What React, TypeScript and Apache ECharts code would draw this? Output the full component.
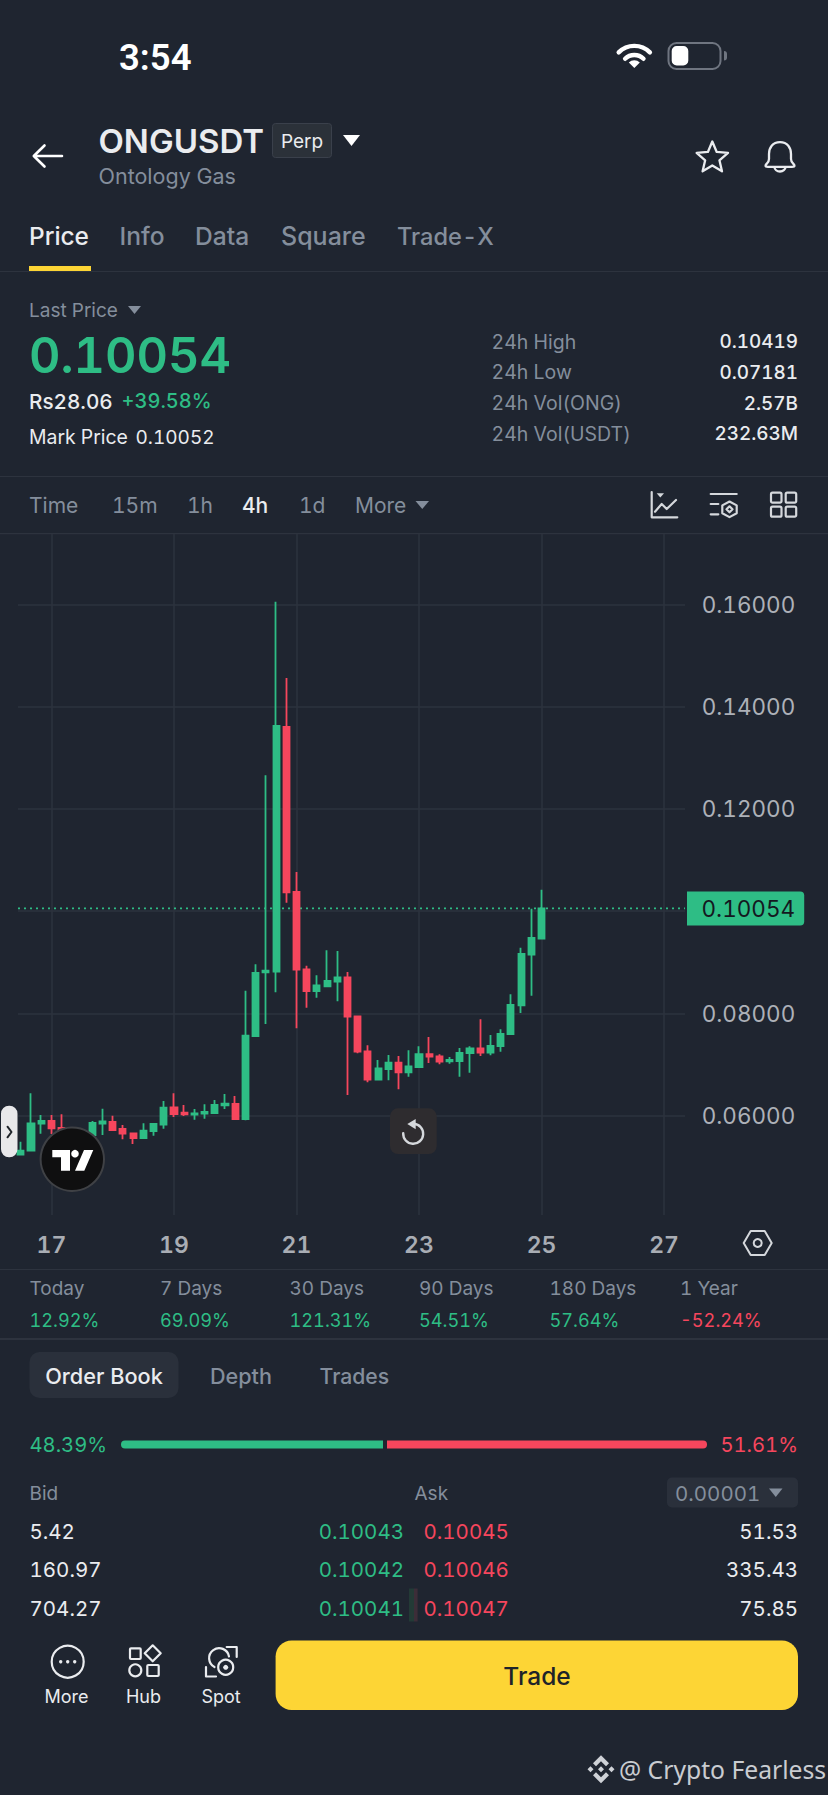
import React, { useEffect, useRef } from "react";
import * as echarts from "echarts";

// ---- chart data ----
const tickLabels = ["17", "19", "21", "23", "25", "27"];
const opens = [0.05237,0.05316,0.05844,0.05896,0.05759,0.05681,0.055,0.05623,0.05844,0.05877,0.0574,0.05656,0.05564,0.05701,0.05824,0.06164,0.06059,0.0602,0.06039,0.06053,0.06203,0.06229,0.05935,0.07558,0.08804,0.08816,0.13601,0.10374,0.08863,0.08438,0.0853,0.0862,0.08706,0.07944,0.07259,0.06704,0.06913,0.07036,0.06849,0.06952,0.07206,0.07161,0.07064,0.0707,0.07226,0.07318,0.07232,0.07363,0.07598,0.08159,0.09148,0.09461];
const closes = [0.05316,0.05851,0.05896,0.05754,0.05681,0.0556,0.05623,0.05857,0.0589,0.0572,0.05648,0.05564,0.05707,0.05838,0.06156,0.06033,0.06027,0.06047,0.06072,0.06209,0.06235,0.05935,0.07564,0.0879,0.08835,0.1362,0.10368,0.08855,0.08438,0.0855,0.08634,0.08706,0.07936,0.07251,0.06704,0.06927,0.07036,0.06849,0.06966,0.07206,0.07154,0.07056,0.07089,0.07226,0.07318,0.07232,0.07363,0.07598,0.08165,0.09162,0.09475,0.10054];
const lows = [0.05237,0.05316,0.05648,0.05642,0.05603,0.0552,0.0547,0.05623,0.05623,0.05707,0.05539,0.05447,0.05564,0.05609,0.05746,0.05975,0.05994,0.05922,0.05941,0.06053,0.06131,0.05922,0.0591,0.07558,0.07793,0.08413,0.10165,0.07709,0.08112,0.08307,0.08511,0.08237,0.06405,0.0722,0.06653,0.06704,0.06692,0.06516,0.06763,0.06952,0.07031,0.07005,0.07017,0.06763,0.06841,0.07167,0.07181,0.07251,0.07598,0.08008,0.08346,0.09461];
const highs = [0.05492,0.06438,0.06014,0.06014,0.06027,0.057,0.057,0.05896,0.06137,0.06,0.05818,0.05656,0.05851,0.05851,0.06287,0.06438,0.06209,0.06131,0.06223,0.06307,0.06424,0.06385,0.08444,0.0896,0.12656,0.16051,0.14559,0.10765,0.08933,0.08745,0.09234,0.09221,0.0881,0.07955,0.07377,0.07089,0.07187,0.07167,0.07279,0.07357,0.07539,0.07201,0.07148,0.07324,0.07357,0.07885,0.07578,0.07689,0.08374,0.09285,0.10048,0.10419];
const lastPrice = 0.10054;
const priceLabel = "0.10054";

// ---- interface texts ----
const tabs = ["Price", "Info", "Data", "Square", "Trade-X"];
const intervals = ["Time", "15m", "1h", "4h", "1d", "More"];
const statNames = ["24h High", "24h Low", "24h Vol(ONG)", "24h Vol(USDT)"];
const statValues = ["0.10419", "0.07181", "2.57B", "232.63M"];
const periods = ["Today", "7 Days", "30 Days", "90 Days", "180 Days", "1 Year"];
const periodChanges = ["12.92%", "69.09%", "121.31%", "54.51%", "57.64%", "-52.24%"];
const bookBidSizes = ["5.42", "160.97", "704.27"];
const bookBids = ["0.10043", "0.10042", "0.10041"];
const bookAsks = ["0.10045", "0.10046", "0.10047"];
const bookAskSizes = ["51.53", "335.43", "75.85"];

// ---- layout ----
const tabX = [29, 119.5, 195, 281, 397];
const tabSize = [24.4, 24.6, 24.6, 25, 23.6];
const intervalX = [29, 112, 187, 242, 299, 355];
const periodX = [29.5, 160, 289.5, 419, 549.5, 680];
const rowY = [1531.5, 1569.5, 1608];
const statY = [341.5, 372, 403, 433.5];

const BG = "#1f2530";
const UP = "#2ebd85";
const DOWN = "#f6465d";
const GREY = "#848e9c";
const WHITE = "#eaecef";
const LINE = "#2d333e";
const FONT = "Inter";

const PX_PER_UNIT = 5114;
const Y16 = 604.3;
const yToVal = (y: number) => 0.16 + (Y16 - y) / PX_PER_UNIT;

const ICONS: Record<string, string> = {
  iWifiArcs: "M618.7 52.4A22 22 0 0 1 649.9 52.4M625.1 58.8A13 13 0 0 1 643.5 58.8",
  iWifiDot: "M634.3 68L628.8 62.5A7.8 7.8 0 0 1 639.8 62.5Z",
  iBack: "M62 156L34.5 156M44.5 145.5L33.8 156L44.5 166.5",
  iBell: "M780 142.2C772.5 142.2 769 148 769 154L769 159C769 163 766 163.5 765.6 165.2C765.3 166.5 766 166.8 768 166.8L792 166.8C794 166.8 794.7 166.5 794.4 165.2C794 163.5 791 163 791 159L791 154C791 148 787.5 142.2 780 142.2ZM774.5 167A5.5 4.5 0 0 0 785.5 167",
  iChart: "M651.7 492L651.7 517.3L677.3 517.3M655 511.7L661.7 504L666.7 509L676 500",
  iIndic: "M710.7 494L736.7 494M710.7 504L718.3 504M710.7 514.3L718.3 514.3M729.5 501.5L736.7 505.4L736.7 513.2L729.5 517.1L722.3 513.2L722.3 505.4ZM729.5 506.3L732.5 509.3L729.5 512.3L726.5 509.3Z",
  iHex: "M743.7 1243L750.7 1231L764.7 1231L771.7 1243L764.7 1255L750.7 1255Z",
  iSpot: "M226.7 1647L236.7 1647L236.7 1657M206 1667L206 1676.5L216 1676.5M214.5 1667A10 10 0 1 1 229 1656.5",
  iHub: "M152.7 1645.3L160.7 1653.3L152.7 1661.3L144.7 1653.3Z",
  iReset: "M414 1123.8A10 10 0 1 1 403.2 1133.3",
  iTV: "M52.3 1150L70 1150L70 1170.7L61 1170.7L61 1157.3L52.3 1157.3ZM84 1150L93.3 1150L84.3 1170.7L75 1170.7Z",
  iBinance: "M601 1755.3L609 1763.3L606 1766.3L601 1761.3L596 1766.3L593 1763.3ZM601 1783.3L609 1775.3L606 1772.3L601 1777.3L596 1772.3L593 1775.3ZM601 1766.3L604 1769.3L601 1772.3L598 1769.3ZM590.5 1766.3L593.5 1769.3L590.5 1772.3L587.5 1769.3ZM611.5 1766.3L614.5 1769.3L611.5 1772.3L608.5 1769.3Z",
  iChevron: "M7.5 1126.7L11.5 1132L7.5 1137.3",
};
let iconsDone = false;
function registerIcons() {
  if (iconsDone) return;
  iconsDone = true;
  Object.keys(ICONS).forEach((k) => {
    echarts.graphic.registerShape(k, echarts.graphic.extendPath(ICONS[k], {}));
  });
}

const Z = 100;
function txt(text: string, x: number, y: number, size: number, fill: string, o: any = {}) {
  const align = o.align || "left";
  return {
    type: "text", x, y, z: Z,
    style: {
      text, fill,
      font: `${o.weight || 400} ${size}px ${o.family || FONT}`,
      align, textAlign: align, verticalAlign: "middle", textVerticalAlign: "middle",
    },
  };
}
const stroke = (name: string, color = "#d5d8dc", lineWidth = 2.2) => ({
  type: name, x: 0, y: 0, z: Z,
  style: { fill: "none", stroke: color, lineWidth, lineCap: "round", lineJoin: "round" },
});
const solid = (name: string, color: string) => ({ type: name, x: 0, y: 0, z: Z, style: { fill: color } });
const rect = (x: number, y: number, w: number, h: number, fill: string, r: any = 0) => ({
  type: "rect", z: Z - 1, shape: { x, y, width: w, height: h, r }, style: { fill },
});
const boxLine = (x: number, y: number, w: number, h: number, color: string, lw: number, r: number) => ({
  type: "rect", z: Z, shape: { x, y, width: w, height: h, r }, style: { fill: "none", stroke: color, lineWidth: lw },
});
const tri = (x: number, y: number, w: number, h: number, fill: string) => ({
  type: "polygon", z: Z, shape: { points: [[x, y], [x + w, y], [x + w / 2, y + h]] }, style: { fill },
});
const circ = (cx: number, cy: number, r: number, s: any) => ({ type: "circle", z: Z, shape: { cx, cy, r }, style: s });
const hr = (y: number, lw = 1.2) => ({
  type: "line", z: Z - 2, shape: { x1: 0, y1: y, x2: 828, y2: y }, style: { stroke: LINE, lineWidth: lw },
});

function starPoints(cx: number, cy: number, R: number, r: number) {
  const pts: number[][] = [];
  for (let i = 0; i < 10; i++) {
    const a = -Math.PI / 2 + (i * Math.PI) / 5;
    const rad = i % 2 ? r : R;
    pts.push([cx + rad * Math.cos(a), cy + rad * Math.sin(a)]);
  }
  return pts;
}

function buildGraphics() {
  const g: any[] = [];
  // status bar
  g.push(txt("3:54", 119, 57, 36.5, "#ffffff", { weight: 600, family: "Roboto" }));
  g.push(stroke("iWifiArcs", "#ffffff", 4.4), solid("iWifiDot", "#ffffff"));
  g.push(boxLine(668.5, 43, 52, 26, "#6f7580", 2, 8), rect(671.7, 46, 16.6, 19.5, "#ffffff", 5));
  g.push(rect(724, 51, 3, 9.5, "#6f7580", [0, 3, 3, 0]));

  // header
  g.push(stroke("iBack", "#ffffff", 2.6));
  g.push(txt("ONGUSDT", 98.5, 140.5, 33, WHITE, { weight: 600 }));
  g.push(rect(272.5, 123.5, 59, 34, "#2b3139", 3), boxLine(272.5, 123.5, 59, 34, "#3a404b", 1, 3));
  g.push(txt("Perp", 302, 141, 19, WHITE, { align: "center" }));
  g.push(tri(343, 135, 17, 11, "#ffffff"));
  g.push(txt("Ontology Gas", 98.5, 176, 21.5, GREY));
  g.push({ type: "polygon", z: Z, shape: { points: starPoints(712.3, 158, 16.5, 7.5) },
    style: { fill: "none", stroke: WHITE, lineWidth: 2.3, lineJoin: "round" } });
  g.push(stroke("iBell", WHITE, 2.3));

  // tabs
  tabs.forEach((t, i) => g.push(txt(t, tabX[i], 236, tabSize[i], i === 0 ? WHITE : GREY, { weight: 500 })));
  g.push(rect(29, 266, 62, 5, "#fcd535"), hr(271.5));

  // price block
  g.push(txt("Last Price", 29, 310.5, 19, GREY), tri(128, 306, 13, 8, GREY));
  g.push(txt(priceLabel, 29, 355, 48.7, UP, { weight: 600 }));
  g.push(txt("Rs28.06", 29, 401, 20.7, WHITE, { weight: 500 }));
  g.push(txt("+39.58%", 121.5, 401, 20, UP, { weight: 500 }));
  g.push(txt("Mark Price", 29, 437, 19.4, WHITE), txt("0.10052", 135.5, 437, 19, WHITE));
  statNames.forEach((s, i) => {
    g.push(txt(s, 491.5, statY[i], 19.5, GREY));
    g.push(txt(statValues[i], 798, statY[i], 18.9, WHITE, { align: "right", weight: 500 }));
  });
  g.push(hr(476.5));

  // interval row
  intervals.forEach((t, i) => g.push(txt(t, intervalX[i], 505, 21, i === 3 ? WHITE : GREY, { weight: i === 3 ? 500 : 400 })));
  g.push(tri(415.5, 501, 13.5, 8, GREY));
  g.push(stroke("iChart"), { type: "polygon", z: Z, shape: { points: [[656.7, 493.3], [664, 493.3], [660.3, 497.6]] }, style: { fill: "#d5d8dc" } });
  g.push(stroke("iIndic"));
  [[771, 492.7], [785.7, 492.7], [771, 506.7], [785.7, 506.7]].forEach(([x, y]) => g.push(boxLine(x, y, 10.5, 10, "#d5d8dc", 2.2, 1.5)));
  g.push(hr(533.7));

  // chart overlays
  g.push(rect(1, 1105.7, 16.5, 51.6, "#e8e8ea", 8), stroke("iChevron", "#1e2329", 2));
  g.push(circ(72.3, 1159.3, 31.7, { fill: "#0f0f10", stroke: "#3f4145", lineWidth: 2 }));
  g.push(solid("iTV", "#ffffff"), circ(75, 1153.7, 3.8, { fill: "#ffffff" }));
  g.push(rect(390, 1108.3, 46.7, 45.7, "#2e2c2f", 8), stroke("iReset", "#d5d8dc", 2.4));
  g.push({ type: "polygon", z: Z, shape: { points: [[407.3, 1124], [415.7, 1119], [415.7, 1129.3]] }, style: { fill: "#d5d8dc" } });
  g.push(stroke("iHex", "#d5d8dc", 2), circ(757.7, 1243, 4, { fill: "none", stroke: "#d5d8dc", lineWidth: 2 }));

  // period changes
  g.push(hr(1269.5));
  periods.forEach((t, i) => {
    g.push(txt(t, periodX[i], 1288.5, 19, GREY));
    g.push(txt(periodChanges[i], periodX[i], 1319.5, 18.2, periodChanges[i].startsWith("-") ? DOWN : UP));
  });
  g.push(hr(1339, 2));

  // order book
  g.push(rect(29.5, 1352, 149, 46, "#2a303b", 10));
  g.push(txt("Order Book", 104, 1375.5, 21.7, WHITE, { align: "center", weight: 500 }));
  g.push(txt("Depth", 210, 1375.5, 21.6, GREY, { weight: 500 }), txt("Trades", 319.5, 1375.5, 21.2, GREY, { weight: 500 }));
  g.push(txt("48.39%", 29.5, 1444.5, 20.2, UP), txt("51.61%", 798, 1444.5, 20.2, DOWN, { align: "right" }));
  g.push(rect(121, 1440.4, 262, 8, UP, [4, 0, 0, 4]), rect(387, 1440.4, 320, 8, DOWN, [0, 4, 4, 0]));
  g.push(txt("Bid", 29.5, 1493, 19, GREY), txt("Ask", 414.5, 1493, 19, GREY));
  g.push(rect(667, 1477.5, 131, 30, "#2a303b", 5), txt("0.00001", 675, 1493, 20.5, GREY), tri(769, 1488.5, 13.5, 8.5, GREY));
  g.push(rect(409, 1588.5, 5, 33, "#233a36"), rect(414, 1588.5, 3.6, 33, "#3c2d38"));
  bookBidSizes.forEach((t, i) => {
    g.push(txt(t, 29.5, rowY[i], 20.5, WHITE));
    g.push(txt(bookBids[i], 404, rowY[i], 20.5, UP, { align: "right" }));
    g.push(txt(bookAsks[i], 423.5, rowY[i], 20.5, DOWN));
    g.push(txt(bookAskSizes[i], 798, rowY[i], 20.5, WHITE, { align: "right" }));
  });

  // bottom bar
  g.push(circ(67.7, 1661.7, 16, { fill: "none", stroke: WHITE, lineWidth: 2.2 }));
  [60.7, 67.7, 74.7].forEach((x) => g.push(circ(x, 1661.7, 1.7, { fill: WHITE })));
  g.push(boxLine(130, 1648.3, 10.7, 10.7, WHITE, 2.2, 1), stroke("iHub", WHITE, 2.2));
  g.push(circ(135.3, 1670.3, 6, { fill: "none", stroke: WHITE, lineWidth: 2.2 }), boxLine(147.3, 1665, 11.4, 11, WHITE, 2.2, 1));
  g.push(stroke("iSpot", WHITE, 2.2), circ(225.7, 1667.3, 7.5, { fill: "none", stroke: WHITE, lineWidth: 2.2 }), circ(225.7, 1667.3, 2.5, { fill: WHITE }));
  g.push(txt("More", 66.5, 1696.5, 18, WHITE, { align: "center" }));
  g.push(txt("Hub", 143.5, 1696.5, 18, WHITE, { align: "center" }));
  g.push(txt("Spot", 221, 1696.5, 18, WHITE, { align: "center" }));
  g.push(rect(275.6, 1640.6, 522.4, 69.4, "#fdd535", 16));
  g.push(txt("Trade", 537, 1675.5, 24.5, "#1e2329", { align: "center", weight: 500 }));

  // watermark
  g.push(solid("iBinance", "#cfd2d7"));
  g.push(txt("@ Crypto Fearless", 619, 1769, 24.7, "#c9ccd1", { family: "Noto Sans" }));
  return g;
}

export default function App() {
  const ref = useRef<HTMLDivElement>(null);
  useEffect(() => {
    document.body.style.margin = "0";
    document.body.style.background = BG;
    registerIcons();
    const chart = echarts.init(ref.current!, null, { renderer: "svg" });
    const categories = Array.from({ length: 65 }, (_, i) =>
      (i - 3) % 12 === 0 && i >= 3 ? tickLabels[(i - 3) / 12] : `c${i}`
    );
    const isTick = (i: number) => i >= 3 && (i - 3) % 12 === 0;
    const step = 10.21;
    chart.setOption({
      animation: false,
      backgroundColor: BG,
      grid: [
        { left: 20.8 - step / 2, top: 534, width: step * 65, height: 681 },
        { left: 18, top: Y16 - 0.02 * PX_PER_UNIT, width: 667, height: 0.14 * PX_PER_UNIT },
      ],
      xAxis: [
        {
          type: "category", gridIndex: 0, data: categories, boundaryGap: true,
          axisLine: { show: false }, axisTick: { show: false },
          axisLabel: {
            margin: 18, color: "#a9adb4", fontSize: 23, fontWeight: 600, fontFamily: FONT,
            interval: (i: number) => isTick(i),
            formatter: (v: string) => v,
          },
          splitLine: { show: true, alignWithLabel: true, interval: (i: number) => isTick(i), lineStyle: { color: LINE, width: 1.5 } },
        },
        { type: "value", gridIndex: 1, show: false, min: 0, max: 1 },
      ],
      yAxis: [
        { type: "value", gridIndex: 0, show: false, min: yToVal(1215), max: yToVal(534), scale: true, splitLine: { show: false } },
        {
          type: "value", gridIndex: 1, position: "right", min: 0.04, max: 0.18, interval: 0.02,
          axisLine: { show: false }, axisTick: { show: false },
          axisLabel: {
            margin: 16.7, color: "#adb1b8", fontSize: 22.5, fontFamily: FONT,
            showMinLabel: false, showMaxLabel: false,
            formatter: (v: number) => v.toFixed(5),
          },
          splitLine: { show: true, showMinLine: false, showMaxLine: false, lineStyle: { color: LINE, width: 1.5 } },
        },
      ],
      series: [
        {
          type: "line", xAxisIndex: 1, yAxisIndex: 1, z: 1, showSymbol: false, silent: true,
          data: [[0, lastPrice], [1, lastPrice]],
          lineStyle: { color: UP, width: 1.6, type: [2, 4] },
          endLabel: {
            show: true, formatter: priceLabel, distance: 2,
            color: "#14181f", fontSize: 22.5, fontFamily: FONT,
            backgroundColor: UP, borderRadius: [0, 4, 4, 0], padding: [5.5, 18.8, 5.5, 14.5],
          },
        },
        {
          type: "candlestick", xAxisIndex: 0, yAxisIndex: 0, z: 2, barWidth: 6.6,
          data: opens.map((o, i) => [o, closes[i], lows[i], highs[i]]),
          itemStyle: { color: UP, color0: DOWN, borderColor: UP, borderColor0: DOWN, borderWidth: 1.8 },
        },
      ],
      graphic: { elements: buildGraphics() },
    });
    return () => chart.dispose();
  }, []);
  return (
    <>
      <style>{'svg text{font-feature-settings:"tnum" 1 !important;}'}</style>
      <div ref={ref} style={{ width: 828, height: 1795, position: "absolute", left: 0, top: 0 }} />
    </>
  );
}
